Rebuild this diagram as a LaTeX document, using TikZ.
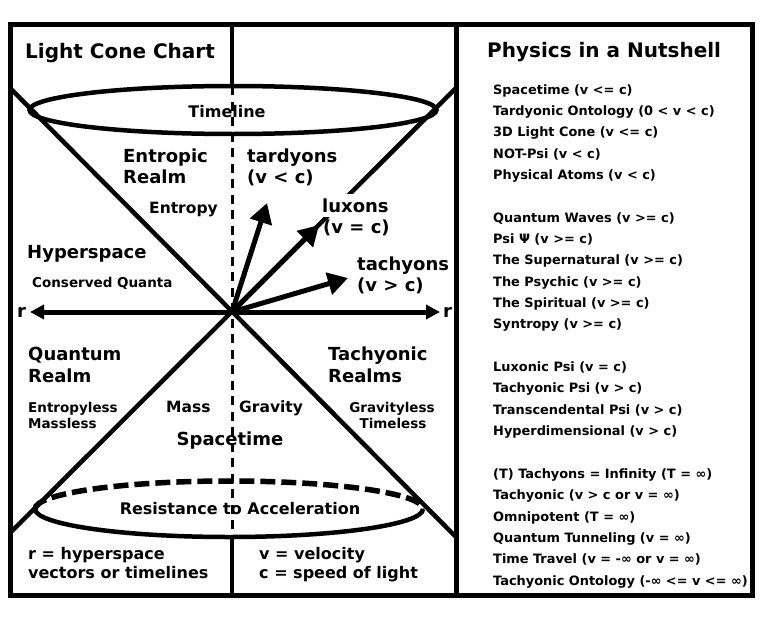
\documentclass[tikz,border=0pt]{standalone}
\usepackage{fontspec}
\setmainfont{DejaVu Sans}
\usetikzlibrary{arrows.meta}
\begin{document}
\begin{tikzpicture}[x=1pt,y=-1pt,
  framel/.style={line width=5pt},
  cone/.style={line width=4.5pt},
  axisdash/.style={line width=3pt, dash pattern=on 9pt off 6.5pt},
  axissolid/.style={line width=4pt},
  backdash/.style={line width=5.5pt, dash pattern=on 15pt off 6pt},
  vec/.style={line width=5pt, -{Triangle[length=20pt,width=22pt]}},
  raxis/.style={line width=5pt, {Triangle[length=14pt,width=14pt]}-{Triangle[length=14pt,width=14pt]}},
  lbl/.style={anchor=base west, inner sep=0pt},
  clbl/.style={anchor=base, inner sep=0pt},
  tA/.style={font=\bfseries\fontsize{20}{24}\selectfont},
  tB/.style={font=\bfseries\fontsize{18}{21}\selectfont},
  tC/.style={font=\bfseries\fontsize{16}{19}\selectfont},
  tD/.style={font=\bfseries\fontsize{15.5}{18}\selectfont},
  tE/.style={font=\bfseries\fontsize{13.5}{15.5}\selectfont},
  tF/.style={font=\bfseries\fontsize{12.9}{15}\selectfont},
]
\useasboundingbox[fill=white] (0,0) rectangle (768,621);

% key points
\coordinate (O) at (232,312);
\coordinate (TL) at (10,88);
\coordinate (TR) at (456,88);
\coordinate (BL) at (10,533);
\coordinate (BR) at (456,537);
\coordinate (VT) at (232,24);
\coordinate (VA) at (232,86);
\coordinate (VB) at (232,536);
\coordinate (VD) at (232,595);
\coordinate (RL) at (30,312);
\coordinate (RR) at (440,312);
\coordinate (tarT) at (267,203);
\coordinate (luxT) at (319,225);
\coordinate (tacT) at (348,278);

% cone lines
\draw[cone] (TL) -- (BR);
\draw[cone] (TR) -- (BL);

% vertical time axis
\draw[axissolid] (VT) -- (VA);
\draw[axisdash] (VA) -- (VB);
\draw[axissolid] (VB) -- (VD);

% top ellipse
\draw[cone] (233,110) ellipse [x radius=203.5, y radius=24];
% bottom ellipse
\draw[backdash] (229,509) ++(180:194 and 28) arc[start angle=180, end angle=360, x radius=194, y radius=28];
\draw[cone] (229,509) ++(0:194 and 28) arc[start angle=0, end angle=180, x radius=194, y radius=28];

% frame
\draw[framel] (10,24) rectangle (752,595);
\draw[framel] (456,24) -- (456,595);

% luxons label hides the cone line
\node[anchor=base west, inner xsep=3pt, inner ysep=4.5pt, fill=white, tB] (lux1) at (319,212) {luxons};

% axes and vectors
\draw[raxis] (RL) -- (RR);
\draw[vec] (O) -- (tarT);
\draw[vec] (O) -- (luxT);
\draw[vec] (O) -- (tacT);

% titles
\node[lbl,tA] (title) at (25,58) {Light Cone Chart};
\node[lbl,tA] (title2) at (487,57) {Physics in a Nutshell};

% cone labels
\node[clbl,tC] (timeline) at (227,117) {Timeline};
\node[lbl,tB] (ent1) at (123,162) {Entropic};
\node[lbl,tB] (ent2) at (123,183) {Realm};
\node[lbl,tD] (entropy) at (149,213) {Entropy};
\node[lbl,tB] (tar1) at (247,162) {tardyons};
\node[lbl,tB] (tar2) at (247,183) {(v < c)};
\node[lbl,tB] (lux2) at (323,233) {(v = c)};
\node[lbl,tB] (tac1) at (357,270) {tachyons};
\node[lbl,tB] (tac2) at (357,291) {(v > c)};
\node[lbl,tB] (hyper) at (27,258) {Hyperspace};
\node[lbl,tE] (cq) at (32,287) {Conserved Quanta};
\node[lbl,tB] (rl) at (17,317) {r};
\node[lbl,tB] (rr) at (443,317) {r};
\node[lbl,tB] (qr1) at (28,360) {Quantum};
\node[lbl,tB] (qr2) at (28,382) {Realm};
\node[lbl,tB] (tr1) at (328,360) {Tachyonic};
\node[lbl,tB] (tr2) at (328,382) {Realms};
\node[lbl,tE] (el1) at (28,412) {Entropyless};
\node[lbl,tE] (el2) at (28,428) {Massless};
\node[lbl,tD] (mass) at (166,412) {Mass};
\node[lbl,tD] (grav) at (239,412) {Gravity};
\node[clbl,tE] (gl1) at (392,412) {Gravityless};
\node[clbl,tE] (gl2) at (393,428) {Timeless};
\node[clbl,tB] (st) at (230,445) {Spacetime};
\node[clbl,tC] (rta) at (240,514) {Resistance to Acceleration};
\node[lbl,tC] (leg1) at (28,559) {r = hyperspace};
\node[lbl,tC] (leg2) at (28,578) {vectors or timelines};
\node[lbl,tC] (leg3) at (259,559) {v = velocity};
\node[lbl,tC] (leg4) at (259,578) {c = speed of light};

% right list
\foreach \k/\t in {0/{Spacetime (v <= c)},1/{Tardyonic Ontology (0 < v < c)},2/{3D Light Cone (v <= c)},3/{NOT-Psi (v < c)},4/{Physical Atoms (v < c)},
  6/{Quantum Waves (v >= c)},7/{Psi Ψ (v >= c)},8/{The Supernatural (v >= c)},9/{The Psychic (v >= c)},10/{The Spiritual (v >= c)},11/{Syntropy (v >= c)},
  13/{Luxonic Psi (v = c)},14/{Tachyonic Psi (v > c)},15/{Transcendental Psi (v > c)},16/{Hyperdimensional (v > c)},
  18/{(T) Tachyons = Infinity (T = ∞)},19/{Tachyonic (v > c or v = ∞)},20/{Omnipotent (T = ∞)},21/{Quantum Tunneling (v = ∞)},22/{Time Travel (v = -∞ or v = ∞)},23/{Tachyonic Ontology (-∞ <= v <= ∞)}}
  \node[lbl,tF] (item\k) at (493,{94+21.35*\k}) {\t};
\end{tikzpicture}
\end{document}
